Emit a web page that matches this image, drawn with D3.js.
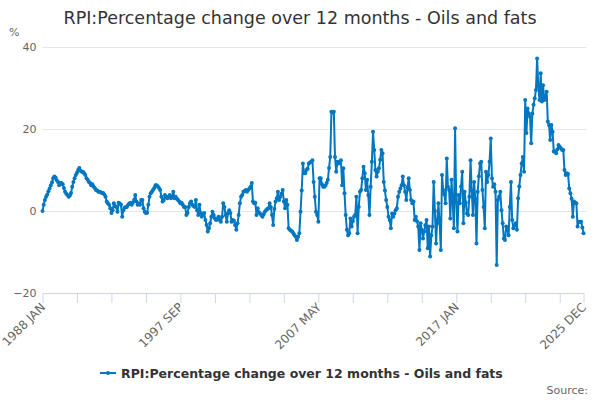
<!DOCTYPE html>
<html>
<head>
<meta charset="utf-8">
<script src="https://cdn.jsdelivr.net/npm/d3@7"></script>
<style>
  body { margin: 0; background: #fff; }
  text { font-family: "DejaVu Sans", sans-serif; }
</style>
</head>
<body>
<div id="chart"></div>
<script>
const months = ['JAN', 'FEB', 'MAR', 'APR', 'MAY', 'JUN', 'JUL', 'AUG', 'SEP', 'OCT', 'NOV', 'DEC'];
const years = d3.range(1988, 2026);

// one row per year, Jan..Dec
const values = [
  0, 1.5, 2.7, 3.5, 4.0, 4.8, 5.5, 6.3, 7.0, 8.0, 8.4, 8.2,
  7.5, 7.1, 6.3, 6.8, 6.8, 6.5, 5.6, 4.7, 4.2, 3.9, 3.5, 3.8,
  4.4, 5.9, 7.1, 8.0, 8.8, 9.3, 10.0, 10.5, 9.8, 9.6, 9.6, 9.2,
  8.8, 8.0, 7.6, 7.1, 6.8, 6.3, 6.5, 5.9, 5.6, 5.1, 5.0, 4.7,
  4.7, 4.6, 4.4, 4.4, 4.0, 3.5, 2.3, 1.9, 1.5, 0.7, -0.5, 0.2,
  1.9, 1.2, 1.0, -0.2, 2.0, 1.8, 1.5, -1.4, 0.2, 0.8, 1.0, 1.0,
  1.5, 1.8, 2.0, 1.5, 2.0, 2.7, 3.9, 2.3, 1.5, 1.8, 1.5, 2.7,
  2.7, 0.7, -0.2, -0.5, -0.4, 1.5, 3.5, 4.3, 4.7, 5.2, 5.6, 6.3,
  6.3, 6.0, 5.6, 5.1, 3.5, 2.3, 2.7, 3.9, 3.5, 3.1, 3.5, 3.9,
  3.1, 3.5, 4.7, 3.1, 3.5, 3.0, 2.7, 2.3, 1.9, 2.0, 1.5, 1.0,
  1.0, -1.0, -0.5, 1.0, 1.9, 2.3, 1.5, 1.2, 1.0, 2.7, 0.2, -1.0,
  1.5, -0.5, -1.4, -0.8, -0.5, -2.2, -3.4, -5.0, -4.2, -3.0, -1.4, -0.2,
  -1.0, -1.8, -2.2, -2.0, -1.4, -2.2, -2.6, -1.4, 1.9, 1.0, -1.0, -2.6,
  -0.5, 0.2, -0.5, -2.6, -2.2, -2.4, -3.4, -4.6, -3.0, -1.0, 1.9, 3.5,
  3.9, 4.7, 4.9, 5.1, 4.7, 5.1, 5.5, 5.9, 6.8, 2.3, 1.9, 2.0,
  -1.0, 0.7, -0.3, -0.6, -1.0, -1.4, -0.8, -0.2, 0.2, 0.5, 0.7, 1.9,
  1.0, -1.0, -3.4, 0.5, 2.3, 3.1, 4.7, 2.7, 3.5, 4.2, 5.1, 2.3,
  0.7, 2.7, 1.5, -4.2, -4.6, -4.8, -5.0, -5.4, -5.9, -6.3, -7.1, -6.3,
  -5.4, -0.2, 5.0, 11.6, 9.2, 9.2, 10.0, 10.3, 11.6, 11.8, 12.0, 12.4,
  7.1, 3.5, -0.2, -1.0, -2.6, 8.0, 8.0, 6.5, 5.9, 5.9, 6.2, 6.8,
  7.6, 10.5, 13.2, 24.2, 24.0, 24.2, 13.2, 9.6, 12.0, 11.6, 12.0, 12.4,
  6.3, 10.4, 4.3, -1.0, -4.6, -5.9, -5.4, -1.8, -3.8, -2.5, -1.4, -1.0,
  3.5, -5.4, 1.0, 4.7, 5.1, 8.0, 10.8, 9.2, 5.1, 7.6, 3.9, -1.0,
  5.9, 12.0, 19.3, 14.9, 10.0, 8.4, 9.6, 10.4, 12.5, 14.9, 14.1, 7.1,
  5.0, 2.7, 1.0, -1.4, -2.2, -4.2, -0.6, -1.4, -0.6, 0.2, 0.7, 3.5,
  4.7, 5.5, 6.3, 8.4, 6.3, 4.7, 2.7, 5.8, 8.0, 5.1, 2.7, 1.9,
  2.3, -2.2, -1.4, -2.5, -3.8, -9.5, -3.0, -4.6, -6.7, -5.0, -3.5, -2.2,
  -9.1, -3.8, -11.1, -6.0, -3.8, 7.1, 0.0, -7.9, -2.2, 1.9, -3.0, -9.5,
  8.8, 5.1, 4.0, 1.9, 12.8, 5.9, 5.1, -1.8, 7.6, 2.0, -4.2, 20.2,
  2.0, -5.0, 3.9, 1.9, 6.0, 9.6, -3.0, 4.7, 2.0, -0.6, -1.0, 3.5,
  12.4, 5.0, -1.0, 7.1, 3.0, -7.9, 4.7, 8.5, 11.6, 12.0, 5.1, 1.0,
  -4.2, 9.6, 7.1, 8.8, 12.0, 17.7, 8.0, 5.9, 6.5, 4.7, -13.2, 2.7,
  3.5, 4.7, 0.2, -3.0, -6.7, -7.1, -3.8, -4.5, -5.9, 1.0, 7.1, -2.2,
  -4.2, -3.5, -3.0, -4.6, 3.1, 6.0, 8.8, 11.6, 13.2, 9.6, 27.1, 19.0,
  25.0, 23.8, 23.0, 16.5, 23.8, 25.9, 27.5, 29.5, 37.2, 30.3, 27.1, 33.6,
  26.7, 30.7, 27.1, 28.0, 29.1, 21.8, 21.0, 17.3, 21.0, 19.3, 14.5, 14.5,
  14.1, 15.0, 16.1, 15.7, 15.3, 14.9, 14.9, 10.0, 8.8, 9.2, 9.0, 5.5,
  4.3, 3.0, -1.4, 2.3, 2.0, 1.9, -3.8, -2.6, -2.6, -2.6, -4.0, -5.4
];

const yTicks = [-20, 0, 20, 40];
const tickLabels = ['1988 JAN', '1997 SEP', '2007 MAY', '2017 JAN', '2025 DEC'];
const seriesName = 'RPI:Percentage change over 12 months - Oils and fats';

const categories = years.flatMap(y => months.map(m => y + ' ' + m));
const data = values.map((v, i) => ({ cat: categories[i], value: v }));

const width = 600;
const height = 400;
const margin = { top: 47, bottom: 107, left: 42.5, right: 16.5 };
const blue = '#0077c0';

const svg = d3.select('#chart')
    .append('svg')
    .attr('width', width)
    .attr('height', height);

const x = d3.scalePoint()
    .domain(categories)
    .range([margin.left, width - margin.right]);

const y = d3.scaleLinear()
    .domain([-20, 40])
    .range([height - margin.bottom, margin.top]);

// title
svg.append('text')
    .attr('x', width / 2)
    .attr('y', 24)
    .attr('text-anchor', 'middle')
    .attr('font-size', '17.5px')
    .attr('fill', '#333')
    .text(seriesName);

svg.append('text')
    .attr('x', 9)
    .attr('y', 36)
    .attr('font-size', '11px')
    .attr('fill', '#666')
    .text('%');

// grid + y labels
function yAxis(g) {
    g.attr('transform', `translate(${margin.left}, 0)`)
        .call(d3.axisLeft(y).tickValues(yTicks).tickSize(0).tickPadding(6))
        .call(g => g.select('.domain').remove())
        .call(g => g.selectAll('text')
            .attr('font-size', '11px')
            .attr('fill', '#666')
            .attr('font-family', '"DejaVu Sans", sans-serif'));
    g.selectAll('.tick line').remove();
    g.selectAll('.tick').filter(d => d !== -20)
        .append('line')
        .attr('x2', width - margin.right - margin.left + 3)
        .attr('stroke', '#e6e6e6');
}

const tickCats = categories.filter((c, i) => i % 29 === 0 || i === categories.length - 1);

function xAxis(g) {
    g.attr('transform', `translate(0,${height - margin.bottom})`)
        .call(d3.axisBottom(x).tickValues(tickCats).tickSize(10).tickSizeOuter(0)
            .tickFormat(c => tickLabels.includes(c) ? c : ''))
        .call(g => g.select('.domain').attr('stroke', '#ccd6eb'))
        .call(g => g.selectAll('.tick line').attr('stroke', '#ccd6eb'))
        .call(g => g.selectAll('text')
            .attr('font-size', '12px')
            .attr('fill', '#666')
            .attr('font-family', '"DejaVu Sans", sans-serif')
            .attr('text-anchor', 'end')
            .attr('y', 0)
            .attr('dy', 0)
            .attr('transform', 'translate(3,15) rotate(-45)'));
}

svg.append('g').call(yAxis);
svg.append('g').call(xAxis);

const line = d3.line()
    .x(d => x(d.cat))
    .y(d => y(d.value));

svg.append('path')
    .datum(data)
    .attr('fill', 'none')
    .attr('stroke', blue)
    .attr('stroke-width', 2)
    .attr('stroke-linejoin', 'round')
    .attr('d', line);

svg.append('g')
    .attr('fill', blue)
    .selectAll('circle')
    .data(data)
    .join('circle')
    .attr('cx', d => x(d.cat))
    .attr('cy', d => y(d.value))
    .attr('r', 2);

// legend
const legend = svg.append('g').attr('transform', 'translate(100, 373)');
legend.append('line')
    .attr('x1', 0).attr('x2', 16)
    .attr('stroke', blue).attr('stroke-width', 2);
legend.append('circle').attr('cx', 8).attr('r', 2).attr('fill', blue);
legend.append('text')
    .attr('x', 21)
    .attr('y', 4.5)
    .attr('font-size', '12.5px')
    .attr('font-weight', 'bold')
    .attr('fill', '#333')
    .text(seriesName);

svg.append('text')
    .attr('x', 588)
    .attr('y', 394)
    .attr('text-anchor', 'end')
    .attr('font-size', '11px')
    .attr('fill', '#666')
    .text('Source:');
</script>
</body>
</html>
